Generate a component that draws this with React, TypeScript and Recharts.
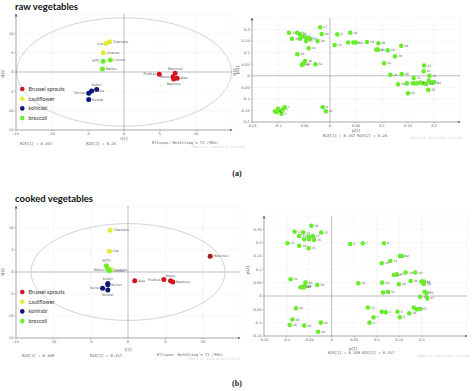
import React from "react";
import {
  ScatterChart,
  Scatter,
  XAxis,
  YAxis,
  CartesianGrid,
  ReferenceLine,
  ReferenceArea,
} from "recharts";

// groups / legend
const groupNames = ["Brussel sprouts", "cauliflower", "kohlrabi", "broccoli"];
const groupColors = ["#d2141f", "#e2ea3a", "#0c1678", "#6cee2a"];

// raw vegetables - scores t[1] / t[2]
const rawNames = ["Charlotte", "Lila", "Orlando", "Cronos", "SPTY", "Malibu", "Profitus", "Maximus", "Marte", "Ajax", "Neptune", "Kolibri", "Korist", "Korner", "Kordial"];
const rawGroup = [1, 1, 1, 3, 3, 3, 0, 0, 0, 0, 0, 2, 2, 2, 2];
const rawT1 = [-2.0, -2.5, -2.9, -1.9, -2.9, -3.0, 4.9, 7.1, 6.8, 7.4, 6.9, -3.8, -4.5, -4.9, -4.9];
const rawT2 = [7.8, 7.4, 5.0, 3.1, 2.8, 0.8, -0.6, -0.3, -1.2, -1.6, -1.8, -4.5, -4.9, -5.5, -7.1];

// cooked vegetables - scores
const cookNames = ["Charlotte", "Lila", "Orlando", "SPTY", "Malibu", "Cronos", "Kolibri", "Korner", "Korist", "Kordial", "Ajax", "Profitus", "Marte", "Neptune", "Maximus"];
const cookGroup = [1, 1, 1, 3, 3, 3, 2, 2, 2, 2, 0, 0, 0, 0, 0];
const cookT1 = [-2.4, -2.5, -2.3, -2.9, -2.7, -2.5, -2.7, -2.7, -3.4, -2.7, 0.9, 4.8, 5.7, 6.0, 11.0];
const cookT2 = [9.5, 4.7, 0.6, 1.4, 0.6, 0.3, -2.6, -2.9, -3.7, -4.1, -2.0, -1.7, -2.0, -2.3, 3.6];

// raw vegetables - loadings p[1] / p[2]
const rawLoadIds = ["17", "21", "23", "25", "27", "29", "31", "33", "35", "37", "39", "40", "42", "44", "46", "48", "50", "52", "8", "10", "12", "14", "16", "18", "19", "20", "22", "24", "26", "28", "30", "32", "34", "36", "41", "43", "45", "47", "49", "51", "53", "54", "55", "56", "57", "58", "59", "60", "61", "62", "1", "2", "3", "4", "5", "6", "7", "9", "11"];
const rawP1 = [-0.019, -0.079, -0.063, -0.058, -0.051, -0.073, -0.057, -0.045, -0.039, -0.046, -0.024, -0.016, -0.041, -0.063, -0.048, -0.051, -0.054, -0.028, 0.014, 0.039, 0.009, 0.035, 0.045, 0.05, 0.071, 0.093, 0.089, 0.092, 0.111, 0.137, 0.125, 0.104, 0.116, 0.138, 0.181, 0.18, 0.179, 0.191, 0.19, 0.161, 0.196, 0.2, 0.189, 0.131, 0.148, 0.16, 0.167, 0.174, 0.185, 0.15, -0.087, -0.097, -0.106, -0.1, -0.093, -0.102, -0.091, -0.014, -0.008];
const rawP2 = [0.21, 0.186, 0.186, 0.179, 0.171, 0.16, 0.16, 0.164, 0.16, 0.15, 0.15, 0.181, 0.119, 0.093, 0.064, 0.053, 0.047, 0.05, 0.179, 0.186, 0.133, 0.144, 0.144, 0.144, 0.146, 0.141, 0.113, 0.113, 0.11, 0.13, 0.084, 0.054, 0.004, 0.007, 0.044, 0.019, -0.033, 0, -0.021, -0.01, -0.029, -0.029, -0.061, -0.037, -0.033, -0.033, -0.033, -0.029, -0.036, -0.076, -0.136, -0.15, -0.154, -0.143, -0.164, -0.157, -0.147, -0.136, -0.154];

// cooked vegetables - loadings
const cookLoadIds = ["29", "17", "21", "23", "25", "27", "31", "33", "35", "37", "13", "19", "15", "52", "54", "56", "58", "60", "62", "50", "44", "46", "48", "40", "42", "38", "5", "7", "9", "11", "12", "14", "16", "18", "20", "22", "24", "26", "28", "30", "32", "34", "36", "39", "41", "43", "45", "47", "49", "51", "53", "1", "2", "3", "4", "6", "8", "10", "55", "57", "59"];
const cookP1 = [-0.045, -0.082, -0.063, -0.072, -0.051, -0.042, -0.061, -0.05, -0.039, -0.023, -0.098, -0.072, -0.051, -0.091, -0.069, -0.064, -0.06, -0.058, -0.061, -0.032, -0.079, -0.087, -0.093, -0.061, -0.024, -0.03, 0.041, 0.069, 0.116, 0.151, 0.156, 0.13, 0.111, 0.164, 0.185, 0.144, 0.138, 0.175, 0.112, 0.149, 0.059, 0.199, 0.204, 0.204, 0.206, 0.21, 0.196, 0.212, 0.114, 0.125, 0.08, 0.111, 0.12, 0.093, 0.084, 0.146, 0.151, 0.182, 0.188, 0.196, 0.172];
const cookP2 = [0.263, 0.241, 0.238, 0.225, 0.223, 0.225, 0.213, 0.213, 0.21, 0.238, 0.198, 0.188, 0.179, 0.063, 0.033, 0.033, 0.038, 0.05, 0.033, 0.041, -0.046, -0.088, -0.109, -0.111, -0.1, -0.134, 0.195, 0.198, 0.198, 0.15, 0.15, 0.131, 0.123, 0.088, 0.088, 0.081, 0.079, 0.056, 0.05, 0.044, 0.048, 0.054, 0.054, 0.045, 0.016, 0.01, -0.003, -0.009, 0.013, 0.016, -0.043, -0.059, -0.061, -0.08, -0.1, -0.059, -0.08, -0.043, -0.05, -0.049, -0.065];

const scoreTicks = [-15, -10, -5, 0, 5, 10];
const loadXTicks = [-0.15, -0.1, -0.05, 0, 0.05, 0.1, 0.15, 0.2];
const rawLoadYTicks = [-0.2, -0.15, -0.1, -0.05, 0, 0.05, 0.1, 0.15, 0.2];
const cookLoadYTicks = [-0.15, -0.1, -0.05, 0, 0.05, 0.1, 0.15, 0.2, 0.25];

// where the variety label sits next to its dot
const rawSide: Record<string, string> = {
  Lila: "l", SPTY: "l", Profitus: "l", Maximus: "t", Marte: "l", Neptune: "b", Kolibri: "t", Korner: "l",
};
const cookSide: Record<string, string> = {
  SPTY: "t", Malibu: "l", Kolibri: "t", Korist: "l", Kordial: "b", Profitus: "l", Marte: "t",
};
const cookColorOverride: Record<string, string> = { Maximus: "#a31a1e" };

const labelFont = "DejaVu Sans, sans-serif";

const makeDot =
  (r: number, fs: number, sides: Record<string, string> = {}) =>
  (props: any) => {
    const { cx, cy } = props;
    const p = props.payload ?? props;
    if (cx == null || cy == null) return <g />;
    const side = sides[p.name] ?? "r";
    let tx = cx + r + 0.8;
    let ty = cy + fs * 0.35;
    let anchor: "start" | "end" | "middle" = "start";
    if (side === "l") {
      tx = cx - r - 0.8;
      anchor = "end";
    } else if (side === "t") {
      tx = cx;
      ty = cy - r - 1;
      anchor = "middle";
    } else if (side === "b") {
      tx = cx;
      ty = cy + r + fs;
      anchor = "middle";
    }
    return (
      <g>
        <circle cx={cx} cy={cy} r={r} fill={p.color} />
        <text x={tx} y={ty} fontSize={fs} fill="#555" textAnchor={anchor} fontFamily={labelFont}>
          {p.name}
        </text>
      </g>
    );
  };

const ellipseShape = (p: any) => (
  <ellipse
    cx={p.x + p.width / 2}
    cy={p.y + p.height / 2}
    rx={Math.abs(p.width) / 2}
    ry={Math.abs(p.height) / 2}
    fill="none"
    stroke="#c8c8c8"
    strokeWidth={0.8}
  />
);

type PanelProps = {
  left: number;
  top: number;
  width: number;
  height: number;
  yAxisWidth: number;
  marginRight: number;
  xDomain: [number, number];
  yDomain: [number, number];
  xTicks: number[];
  yTicks: number[];
  data: any[];
  dot: (p: any) => React.ReactElement;
  ellipse?: [number, number];
};

const tickStyle = { fontSize: 3.6, fill: "#555", fontFamily: labelFont };

function Panel(props: PanelProps) {
  const { left, top, width, height, yAxisWidth, marginRight, xDomain, yDomain, xTicks, yTicks, data, dot, ellipse } = props;
  return (
    <div style={{ position: "absolute", left, top }}>
      <ScatterChart width={width} height={height} margin={{ top: 6, right: marginRight, left: 0, bottom: 0 }}>
        <CartesianGrid stroke="#ededed" strokeWidth={0.5} />
        <XAxis
          type="number"
          dataKey="x"
          domain={xDomain}
          ticks={xTicks}
          height={8}
          tick={tickStyle}
          tickSize={1.5}
          tickMargin={1}
          tickLine={{ stroke: "#888", strokeWidth: 0.5 }}
          axisLine={{ stroke: "#777", strokeWidth: 0.6, markerEnd: "url(#arr)" }}
          interval={0}
        />
        <YAxis
          type="number"
          dataKey="y"
          domain={yDomain}
          ticks={yTicks}
          width={yAxisWidth}
          tick={tickStyle}
          tickSize={1.5}
          tickMargin={1}
          tickLine={{ stroke: "#888", strokeWidth: 0.5 }}
          axisLine={{ stroke: "#777", strokeWidth: 0.6, markerStart: "url(#arr)" }}
          interval={0}
        />
        {ellipse && (
          <ReferenceArea
            x1={-ellipse[0]}
            x2={ellipse[0]}
            y1={-ellipse[1]}
            y2={ellipse[1]}
            ifOverflow="visible"
            shape={ellipseShape}
          />
        )}
        <ReferenceLine x={0} stroke="#9a9a9a" strokeWidth={0.6} />
        <ReferenceLine y={0} stroke="#9a9a9a" strokeWidth={0.6} />
        <Scatter data={data} shape={dot} isAnimationActive={false} />
      </ScatterChart>
    </div>
  );
}

const loadGreen = "#68ec2c";

export default function App() {
  const rawScores = rawNames.map((n, i) => ({ name: n, x: rawT1[i], y: rawT2[i], color: groupColors[rawGroup[i]] }));
  const cookScores = cookNames.map((n, i) => ({
    name: n,
    x: cookT1[i],
    y: cookT2[i],
    color: cookColorOverride[n] ?? groupColors[cookGroup[i]],
  }));
  const rawLoads = rawLoadIds.map((n, i) => ({ name: n, x: rawP1[i], y: rawP2[i], color: loadGreen }));
  const cookLoads = cookLoadIds.map((n, i) => ({ name: n, x: cookP1[i], y: cookP2[i], color: loadGreen }));

  const small = { fontSize: 3.8, fill: "#555", fontFamily: "DejaVu Sans Mono, monospace" };
  const faint = { fontSize: 3.2, fill: "#d0d0d0", fontFamily: labelFont };
  const axisLab = { fontSize: 3.8, fill: "#555", fontFamily: labelFont };

  const legend = (y0: number) =>
    groupNames.map((g, i) => (
      <g key={g}>
        <circle cx={22.3} cy={y0 + i * 9.7} r={2.3} fill={groupColors[i]} />
        <text x={28.5} y={y0 + i * 9.7 + 1.9} fontSize={5.4} fill="#333" fontFamily="Lato, sans-serif">
          {g}
        </text>
      </g>
    ));

  return (
    <div style={{ position: "absolute", left: 0, top: 0, width: 474, height: 391, background: "#fff", overflow: "hidden" }}>
      <svg width={0} height={0} style={{ position: "absolute" }}>
        <defs>
          <marker id="arr" viewBox="0 0 6 6" refX={5} refY={3} markerWidth={3} markerHeight={3} markerUnits="userSpaceOnUse" orient="auto-start-reverse">
            <path d="M0,0 L6,3 L0,6 z" fill="#666" />
          </marker>
        </defs>
      </svg>

      <Panel left={0} top={8} width={240} height={130} yAxisWidth={16} marginRight={8} xDomain={[-15, 15]} yDomain={[-15, 15]} xTicks={scoreTicks} yTicks={scoreTicks} data={rawScores} dot={makeDot(2.5, 3.3, rawSide)} ellipse={[14.9, 14]} />
      <Panel left={234} top={12} width={230} height={118} yAxisWidth={18} marginRight={4} xDomain={[-0.15, 0.25]} yDomain={[-0.2, 0.25]} xTicks={loadXTicks} yTicks={rawLoadYTicks} data={rawLoads} dot={makeDot(2.3, 3, {})} />
      <Panel left={0} top={200} width={244} height={146} yAxisWidth={16} marginRight={4} xDomain={[-15, 15]} yDomain={[-15, 15]} xTicks={scoreTicks} yTicks={scoreTicks} data={cookScores} dot={makeDot(2.5, 3.3, cookSide)} ellipse={[13, 11]} />
      <Panel left={244} top={210} width={226} height={134} yAxisWidth={20} marginRight={3} xDomain={[-0.15, 0.3]} yDomain={[-0.15, 0.3]} xTicks={loadXTicks} yTicks={cookLoadYTicks} data={cookLoads} dot={makeDot(2.3, 3, {})} />

      <svg width={474} height={391} style={{ position: "absolute", left: 0, top: 0, pointerEvents: "none" }}>
        <text x={15} y={10} fontSize={9.5} fontWeight="bold" fill="#111" fontFamily="Lato, sans-serif">raw vegetables</text>
        <text x={15} y={201.5} fontSize={9.5} fontWeight="bold" fill="#111" fontFamily="Lato, sans-serif">cooked vegetables</text>
        {legend(89)}
        {legend(292)}

        {/* raw scores footer */}
        <text x={124} y={140} textAnchor="middle" {...axisLab}>t[1]</text>
        <text x={3.5} y={74} textAnchor="middle" transform="rotate(-90 3.5 74)" {...axisLab}>t[2]</text>
        <text x={236} y={72} textAnchor="middle" transform="rotate(-90 236 72)" {...axisLab}>t[2]</text>
        <text x={20} y={144.5} {...small}>R2X[1] = 0.337</text>
        <text x={86} y={144.5} {...small}>R2X[2] = 0.28</text>
        <text x={152} y={144} {...small}>Ellipse: Hotelling's T2 (95%)</text>
        <text x={192} y={147.5} {...faint}>SIMCA 14 - 2019-03-07 11:42:58</text>

        {/* raw loadings footer */}
        <text x={356} y={131.5} textAnchor="middle" {...axisLab}>p[1]</text>
        <text x={239} y={70} textAnchor="middle" transform="rotate(-90 239 70)" {...axisLab}>p[2]</text>
        <text x={323} y={136.5} {...small}>R2X[1] = 0.337 R2X[2] = 0.28</text>
        <text x={410} y={138.5} {...faint}>SIMCA 14 - 2019-03-07 11:44:02</text>

        {/* cooked scores footer */}
        <text x={128} y={351} textAnchor="middle" {...axisLab}>t[1]</text>
        <text x={4} y={272} textAnchor="middle" transform="rotate(-90 4 272)" {...axisLab}>t[2]</text>
        <text x={22} y={356.5} {...small}>R2X[1] = 0.339</text>
        <text x={90} y={356.5} {...small}>R2X[2] = 0.317</text>
        <text x={157} y={355.5} {...small}>Ellipse: Hotelling's T2 (95%)</text>
        <text x={188} y={360} {...faint}>SIMCA 14 - 2019-03-07 11:50:13</text>

        {/* cooked loadings footer */}
        <text x={353} y={349.5} textAnchor="middle" {...axisLab}>p[1]</text>
        <text x={249} y={270} textAnchor="middle" transform="rotate(-90 249 270)" {...axisLab}>p[2]</text>
        <text x={328} y={353.5} {...small}>R2X[1] = 0.339 R2X[2] = 0.317</text>
        <text x={417} y={357} {...faint}>SIMCA 14 - 2019-03-07 11:51:40</text>

        <text x={237} y={176} textAnchor="middle" fontSize={8} fontWeight="bold" fill="#222" fontFamily="Liberation Serif, serif">(a)</text>
        <text x={237} y={386} textAnchor="middle" fontSize={8} fontWeight="bold" fill="#222" fontFamily="Liberation Serif, serif">(b)</text>
      </svg>
    </div>
  );
}
